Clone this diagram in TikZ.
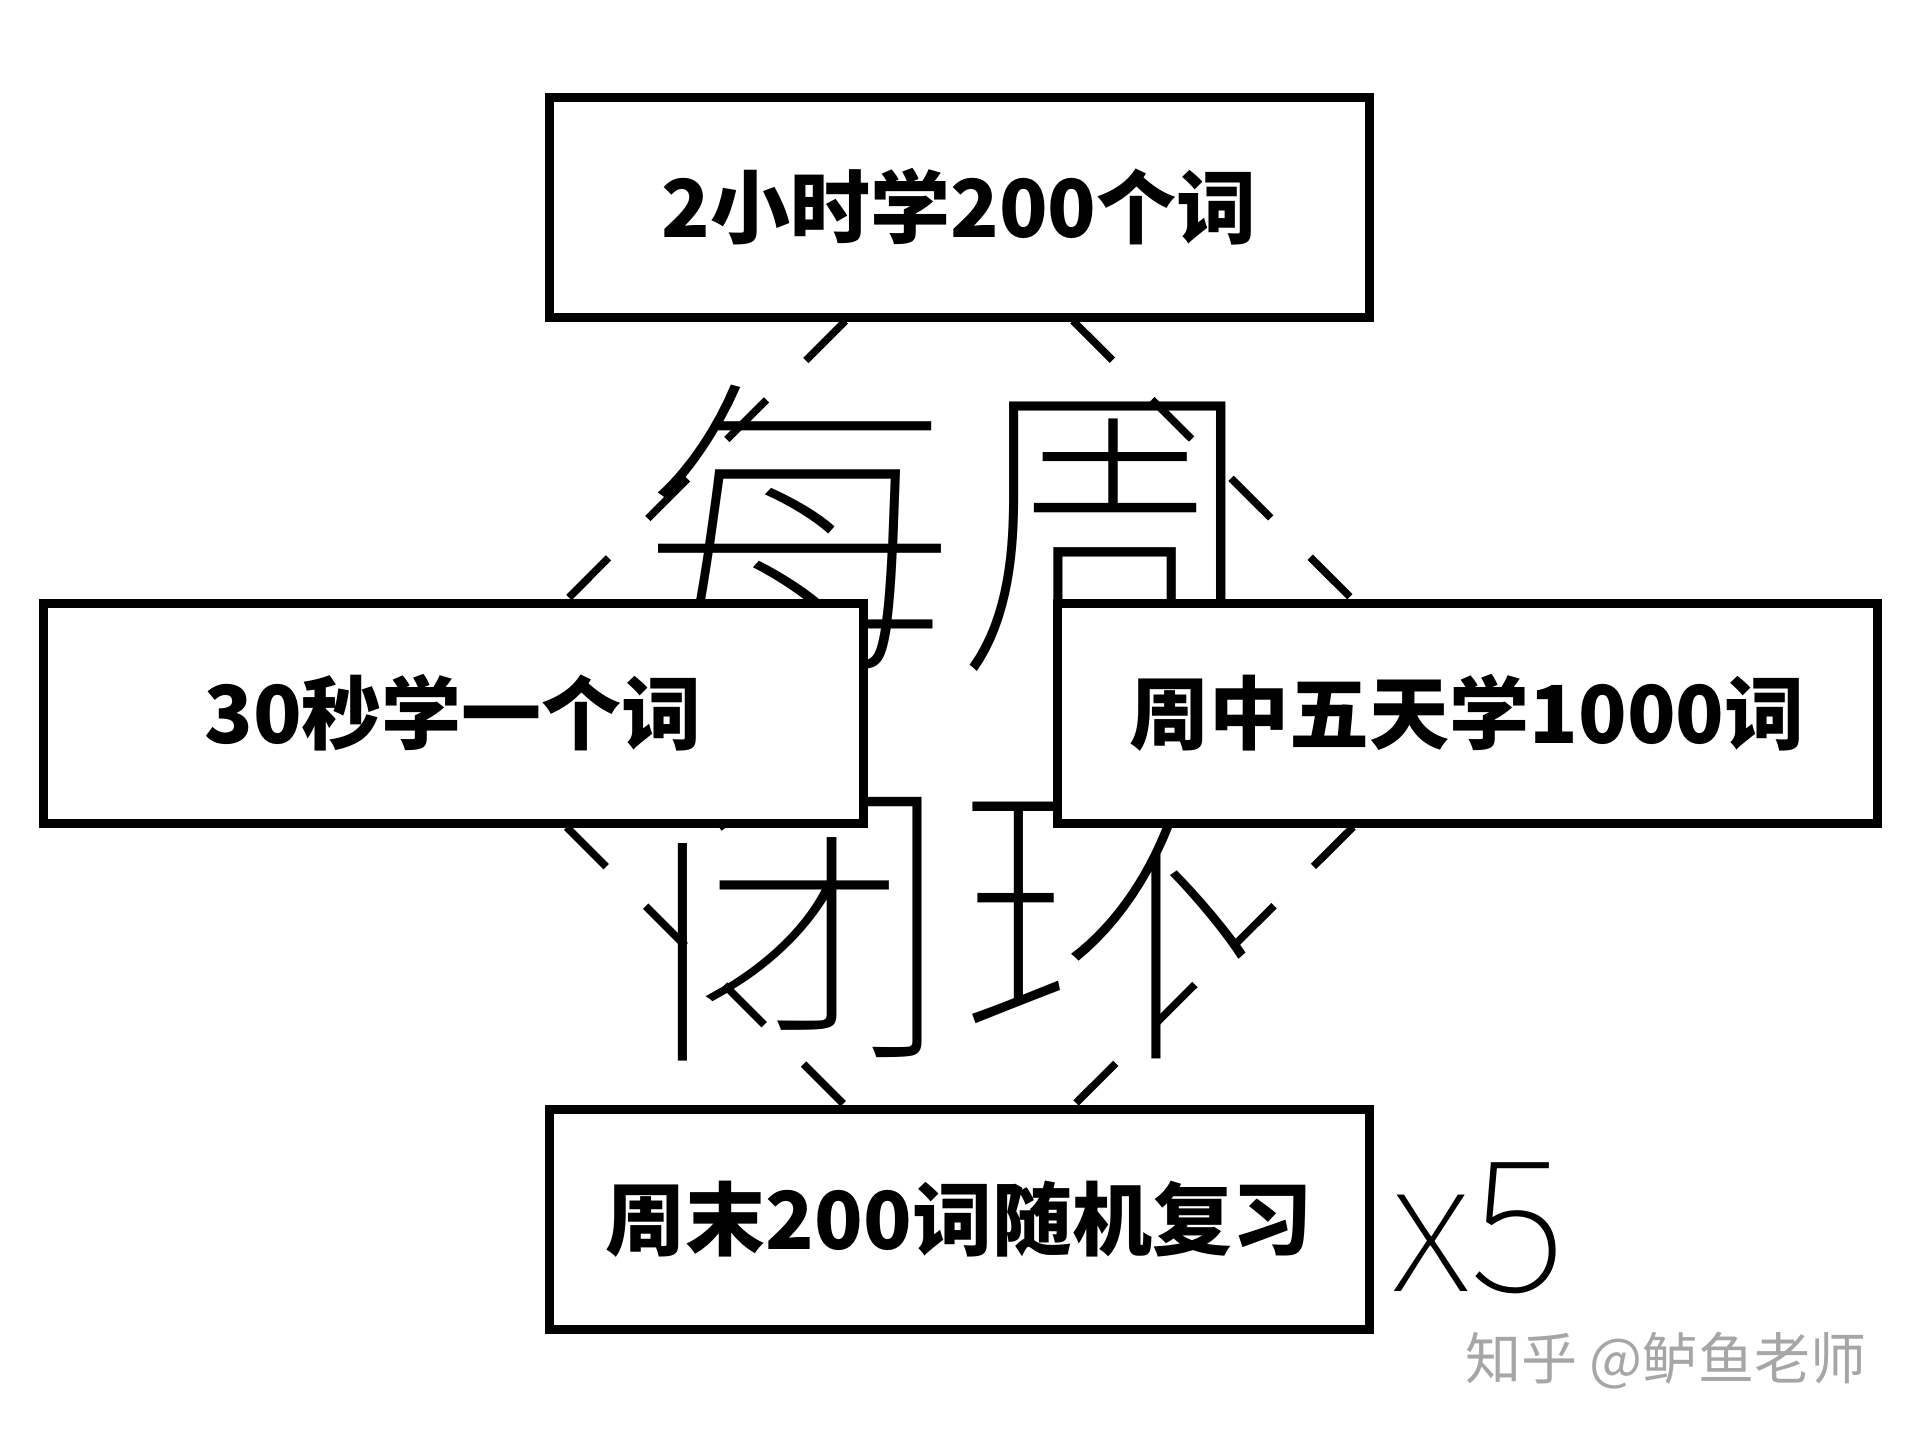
\documentclass[tikz,border=0pt]{standalone}
\usepackage{fontspec}
\newif\ifhavethin
\IfFontExistsTF{Noto Sans CJK SC Thin}{\havethintrue}{\havethinfalse}
\newfontfamily\cjk{Noto Sans CJK SC}
\ifhavethin
  \newfontfamily\bigf{Noto Sans CJK SC Thin}
  \newfontfamily\xfont{Noto Sans CJK SC Thin}
\else
  \newfontfamily\bigf{Noto Sans CJK SC}
  \newfontfamily\xfont{Liberation Sans}
\fi
\newcommand\erodeit[2]{\special{pdf:literal 1 1 1 RG 1 J 1 j #1 w 1 Tr}#2\special{pdf:literal 0 Tr 0 0 0 RG}}
\pgfdeclarelayer{bottom}
\pgfdeclarelayer{mid}
\pgfsetlayers{bottom,mid,main}
\begin{document}
\begin{tikzpicture}[x=1pt,y=-1pt,
  wbox/.style={draw, line width=9pt, fill=white, minimum width=820pt, minimum height=219.5pt,
    inner sep=0pt, font=\cjk\bfseries\fontsize{80}{80}\selectfont, text height=70.4pt, text depth=9.6pt},
  dashline/.style={line width=7.5pt, dash pattern=on 56pt off 55.7pt, dash phase=62.7pt},
  bigtxt/.style={inner sep=0pt, anchor=base, font=\bigf\fontsize{314}{314}\selectfont},
  xtxt/.style={inner sep=0pt, anchor=base west, font=\xfont\fontsize{183}{183}\selectfont},
  wmark/.style={inner sep=0pt, font=\cjk\fontsize{56}{56}\selectfont, text=black!35, text height=49.3pt, text depth=6.7pt}
]
\useasboundingbox (0,0) rectangle (1920,1435);
\begin{pgfonlayer}{bottom}
  \fill[white] (0,0) rectangle (1920,1435);
  \node[bigtxt] (w1) at (956,647) {每周};
  \node[bigtxt] (w2) at (957,1038) {闭环};
  \ifhavethin\else
    \begin{scope}
      \node[bigtxt] (w1e) at (956,647) {\erodeit{15}{每周}};
    \end{scope}
    \begin{scope}
      \node[bigtxt] (w2e) at (957,1038) {\erodeit{15}{闭环}};
    \end{scope}
  \fi
\end{pgfonlayer}

\node[wbox] (top) at (959,207.25) {2小时学200个词};
\node[wbox] (lft) at (453,713.5) {30秒学一个词};
\node[wbox] (rgt) at (1467,713.5) {周中五天学1000词};
\node[wbox] (bot) at (959,1219.5) {周末200词随机复习};

\begin{pgfonlayer}{mid}
  \draw[dashline] (top.center) -- (lft.center);
  \draw[dashline] (lft.center) -- (bot.center);
  \draw[dashline] (top.center) -- (rgt.center);
  \draw[dashline] (rgt.center) -- (bot.center);
\end{pgfonlayer}

\node[xtxt] (x5) at (1391,1291) {x5};
\ifhavethin\else
  \begin{scope}
    \node[xtxt] (x5e) at (1391,1291) {\erodeit{12}{x5}};
  \end{scope}
\fi

\node[wmark] (wm) at (1666,1358) {知乎 @鲈鱼老师};
\end{tikzpicture}
\end{document}
